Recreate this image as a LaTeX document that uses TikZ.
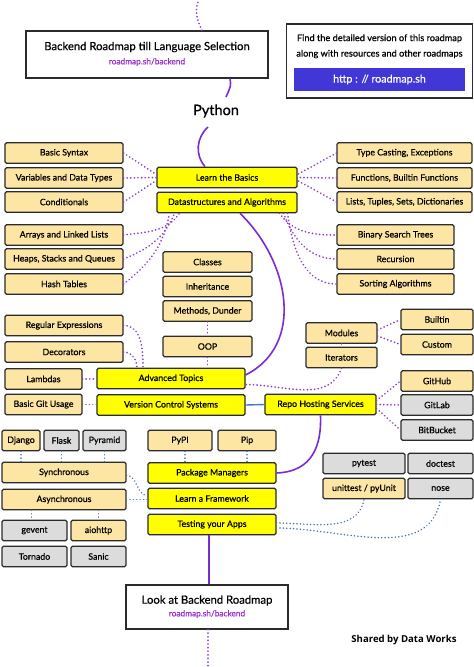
\documentclass[tikz,border=0pt]{standalone}
\usepackage{fontspec}
\setmainfont{Lato}
\newfontfamily\medfont{Lato}[FakeBold=0.6]
\newfontfamily\osans{Open Sans}
\usetikzlibrary{calc}
\definecolor{bordc}{HTML}{2B2B2B}
\definecolor{tanc}{HTML}{FDE5A4}
\definecolor{yelc}{HTML}{FFFF00}
\definecolor{gryc}{HTML}{DCDCDC}
\definecolor{purp}{HTML}{7A2BD3}
\definecolor{purpdot}{HTML}{8A3FD1}
\definecolor{purptxt}{HTML}{9A2FD0}
\definecolor{bluedot}{HTML}{4B79A6}
\definecolor{blueline}{HTML}{3D7CD0}
\definecolor{btnc}{HTML}{4136D6}
\tikzset{
  box/.style={draw=bordc, line width=1.1pt, rounded corners=1.5pt, inner sep=0pt,
    minimum height=20.5pt, font=\medfont\fontsize{8.8}{10}\selectfont, text=black},
  tan/.style={box, fill=tanc},
  yel/.style={box, fill=yelc},
  gry/.style={box, fill=gryc},
  pdot/.style={draw=purpdot, line width=1.9pt, line cap=round, dash pattern=on 0.01pt off 3.6pt},
  bdot/.style={draw=bluedot, line width=1.7pt, line cap=round, dash pattern=on 0.01pt off 3.4pt},
  pline/.style={draw=purp, line width=1.6pt},
  bline/.style={draw=blueline, line width=1.4pt},
  plain/.style={inner sep=0pt, text=black}
}
\begin{document}
\begin{tikzpicture}[x=1pt,y=-1pt]
\fill[white] (0,0) rectangle (474,667);
\useasboundingbox (0,0) rectangle (474,667);

% top boxes
\node[draw=bordc, line width=1.1pt, fill=white, minimum width=242, minimum height=47] (title) at (147,54.5) {};
\node[plain, font=\medfont\fontsize{11.3}{13}\selectfont] (titletxt) at (147,47) {Backend Roadmap till Language Selection};
\node[plain, font=\medfont\fontsize{8.3}{9}\selectfont, text=purptxt] (titleurl) at (147,62) {roadmap.sh/backend};

\node[draw=bordc, line width=1.1pt, fill=white, minimum width=186, minimum height=74] (info) at (379.5,61) {};
\node[plain, font=\medfont\fontsize{9.2}{10}\selectfont] (info1) at (379.5,38.5) {Find the detailed version of this roadmap};
\node[plain, font=\medfont\fontsize{9.2}{10}\selectfont] (info2) at (379.5,54) {along with resources and other roadmaps};
\node[fill=btnc, inner sep=0pt, minimum width=171, minimum height=23, text=white, font=\medfont\fontsize{10.7}{12}\selectfont] (btn) at (379.5,79.5) {http : // roadmap.sh};

\node[plain, font=\medfont\fontsize{14.5}{16}\selectfont] (python) at (216,111) {Python};

% yellow
\node[yel, minimum width=140] (lb) at (227,177.5) {Learn the Basics};
\node[yel, minimum width=140] (ds) at (227,202.5) {Datastructures and Algorithms};
\node[yel, minimum width=148] (adv) at (171,378.5) {Advanced Topics};
\node[yel, minimum width=148] (vcs) at (171,405) {Version Control Systems};
\node[yel, minimum width=111] (repo) at (320.5,404.5) {Repo Hosting Services};
\node[yel, minimum width=128] (pm) at (212,473) {Package Managers};
\node[yel, minimum width=128] (lf) at (212,498.5) {Learn a Framework};
\node[yel, minimum width=128] (ta) at (212,524.5) {Testing your Apps};

% left column
\node[tan, minimum width=118] (bs) at (64,153) {Basic Syntax};
\node[tan, minimum width=118] (vd) at (64,178) {Variables and Data Types};
\node[tan, minimum width=118] (cd) at (64,202) {Conditionals};
\node[tan, minimum width=118] (al) at (64,235) {Arrays and Linked Lists};
\node[tan, minimum width=118] (hs) at (64,259) {Heaps, Stacks and Queues};
\node[tan, minimum width=118] (ht) at (64,284) {Hash Tables};
\node[tan, minimum width=118] (re) at (64,325.5) {Regular Expressions};
\node[tan, minimum width=118] (dc) at (64,352) {Decorators};
\node[tan, minimum width=77] (lam) at (43.5,379) {Lambdas};
\node[tan, minimum width=77] (git) at (43.5,404.5) {Basic Git Usage};

% right column
\node[tan, minimum width=135] (tc) at (404.5,153) {Type Casting, Exceptions};
\node[tan, minimum width=135] (ff) at (404.5,178) {Functions, Builtin Functions};
\node[tan, minimum width=135] (lt) at (404.5,202) {Lists, Tuples, Sets, Dictionaries};
\node[tan, minimum width=117] (bst) at (395.5,235) {Binary Search Trees};
\node[tan, minimum width=117] (rec) at (395.5,259) {Recursion};
\node[tan, minimum width=117] (sa) at (395.5,284) {Sorting Algorithms};

% center OOP
\node[tan, minimum width=89] (cls) at (207.5,262) {Classes};
\node[tan, minimum width=89] (inh) at (207.5,286.5) {Inheritance};
\node[tan, minimum width=89] (md) at (207.5,311) {Methods, Dunder};
\node[tan, minimum width=89] (oop) at (207.5,346.5) {OOP};

% modules
\node[tan, minimum width=71] (mod) at (341.5,333) {Modules};
\node[tan, minimum width=71] (it) at (341.5,357.5) {Iterators};
\node[tan, minimum width=72] (bi) at (437,319.5) {Builtin};
\node[tan, minimum width=72] (cu) at (437,344.5) {Custom};
\node[tan, minimum width=72] (gh) at (437,381) {GitHub};
\node[gry, minimum width=72] (gl) at (437,405) {GitLab};
\node[gry, minimum width=72] (bb) at (437,430) {BitBucket};

% frameworks
\node[tan, minimum width=38] (dj) at (21,440.5) {Django};
\node[gry, minimum width=35] (fl) at (61.5,440.5) {Flask};
\node[gry, minimum width=43] (pyr) at (104.5,440.5) {Pyramid};
\node[tan, minimum width=124] (syn) at (64,472.5) {Synchronous};
\node[tan, minimum width=124] (asy) at (64,499.5) {Asynchronous};
\node[gry, minimum width=65] (gev) at (34.5,530.5) {gevent};
\node[tan, minimum width=55] (aio) at (98.5,530.5) {aiohttp};
\node[gry, minimum width=65] (tor) at (34.5,556.5) {Tornado};
\node[gry, minimum width=55] (san) at (98.5,556.5) {Sanic};

\node[tan, minimum width=64] (pypi) at (180,440.5) {PyPI};
\node[tan, minimum width=58] (pip) at (247,440.5) {Pip};

\node[gry, minimum width=82] (pyt) at (364,463.5) {pytest};
\node[gry, minimum width=65] (doc) at (440.5,463.5) {doctest};
\node[tan, minimum width=82] (ut) at (364,488.5) {unittest / pyUnit};
\node[gry, minimum width=65] (nose) at (440.5,488.5) {nose};

% bottom
\node[draw=bordc, line width=1.1pt, fill=white, minimum width=162, minimum height=44] (bot) at (207,607) {};
\node[plain, font=\medfont\fontsize{11.3}{13}\selectfont] (bottxt) at (207,600.5) {Look at Backend Roadmap};
\node[plain, font=\medfont\fontsize{8.3}{9}\selectfont, text=purptxt] (boturl) at (207,614) {roadmap.sh/backend};
\node[plain, font=\osans\bfseries\fontsize{9.6}{11}\selectfont] (shared) at (404,640) {Shared by Data Works};

% main path
\coordinate (topend) at (199,-1);
\coordinate (pyin) at (226,97);
\coordinate (pyout) at (208,127);
\coordinate (endpt) at (208,668);
\draw[pdot] (topend) .. controls (193,12) and (199,24) .. ([xshift=55pt]title.north);
\draw[pline] ([xshift=83pt]title.south) .. controls (231,86) .. (pyin);
\draw[pline] (pyout) .. controls (196,138) and (195,155) .. ([xshift=-22pt]lb.north);
\draw[pline] ([xshift=13pt]ds.south) .. controls (290,262) and (305,345) .. ([yshift=3.5pt]adv.east);
\draw[pline] (repo.south) .. controls (322,455) and (305,472) .. (pm.east);
\draw[pline] ([xshift=-3pt]ta.south) -- ([xshift=2pt]bot.north);
\draw[pdot] ([xshift=1pt]bot.south) -- (endpt);

% basics
\draw[pdot] (bs.east) -- ([yshift=3pt]lb.west);
\draw[pdot] (vd.east) -- (lb.west);
\draw[pdot] (cd.east) -- ([yshift=-3pt]lb.west);
\draw[pdot] (tc.west) -- ([yshift=3pt]lb.east);
\draw[pdot] (ff.west) -- (lb.east);
\draw[pdot] (lt.west) -- ([yshift=-3pt]lb.east);

% datastructures
\draw[pdot] (al.east) to[out=8,in=-125] ([xshift=23pt]ds.south west);
\draw[pdot] (hs.east) to[out=22,in=-112] ([xshift=18pt]ds.south west);
\draw[pdot] (ht.east) to[out=38,in=-100] ([xshift=13pt]ds.south west);
\draw[pdot] ([xshift=-18pt]ds.south east) to[out=-55,in=180] (bst.west);
\draw[pdot] ([xshift=-14pt]ds.south east) to[out=-70,in=180] (rec.west);
\draw[pdot] ([xshift=-10pt]ds.south east) to[out=-82,in=180] (sa.west);

% advanced
\draw[pdot] (re.east) to[out=0,in=90] ([xshift=-28pt]adv.north);
\draw[pdot] (dc.east) to[out=0,in=90] ([xshift=-34pt]adv.north);
\draw[pdot] (lam.east) -- (lam.east -| adv.west);
\draw[pdot] (md.south) -- (oop.north);
\draw[pdot] (oop.south) -- (oop.south |- adv.north);
\draw[pdot] (it.south) to[out=-110,in=0] ([yshift=-6pt]adv.east);
\draw[pdot] (mod.south) -- (it.north);
\draw[pdot] ([yshift=3pt]mod.east) -- (bi.west);
\draw[pdot] ([yshift=-3pt]mod.east) -- (cu.west);

% vcs
\draw[bdot] (git.east) -- (git.east -| vcs.west);
\draw[bline] (vcs.east) -- (repo.west);
\draw[pdot] ([yshift=4pt]repo.east) -- (gh.west);
\draw[pdot] (repo.east) -- (gl.west);
\draw[pdot] ([yshift=-4pt]repo.east) -- (bb.west);

% frameworks
\draw[bdot] (dj.south) -- (dj.south |- syn.north);
\draw[bdot] (fl.south) -- (fl.south |- syn.north);
\draw[bdot] (pyr.south) -- (pyr.south |- syn.north);
\draw[bdot] ([yshift=-3pt]syn.east) to[out=0,in=180] ([yshift=3pt]lf.west);
\draw[bdot] (asy.east) -- (asy.east -| lf.west);
\draw[bdot] ([xshift=-3pt]gev.north |- asy.south) -- ([xshift=-3pt]gev.north);
\draw[bdot] (aio.north |- asy.south) -- (aio.north);
\draw[bdot] ([xshift=5pt]pypi.south) -- ([xshift=5pt]pypi.south |- pm.north);
\draw[bdot] (pip.south) -- (pip.south |- pm.north);

% testing
\draw[bdot] ([yshift=1.5pt]ta.east) to[out=0,in=-100] (ut.south);
\draw[bdot] ([yshift=-3.5pt]ta.east) to[out=0,in=-100] (nose.south);
\end{tikzpicture}
\end{document}
